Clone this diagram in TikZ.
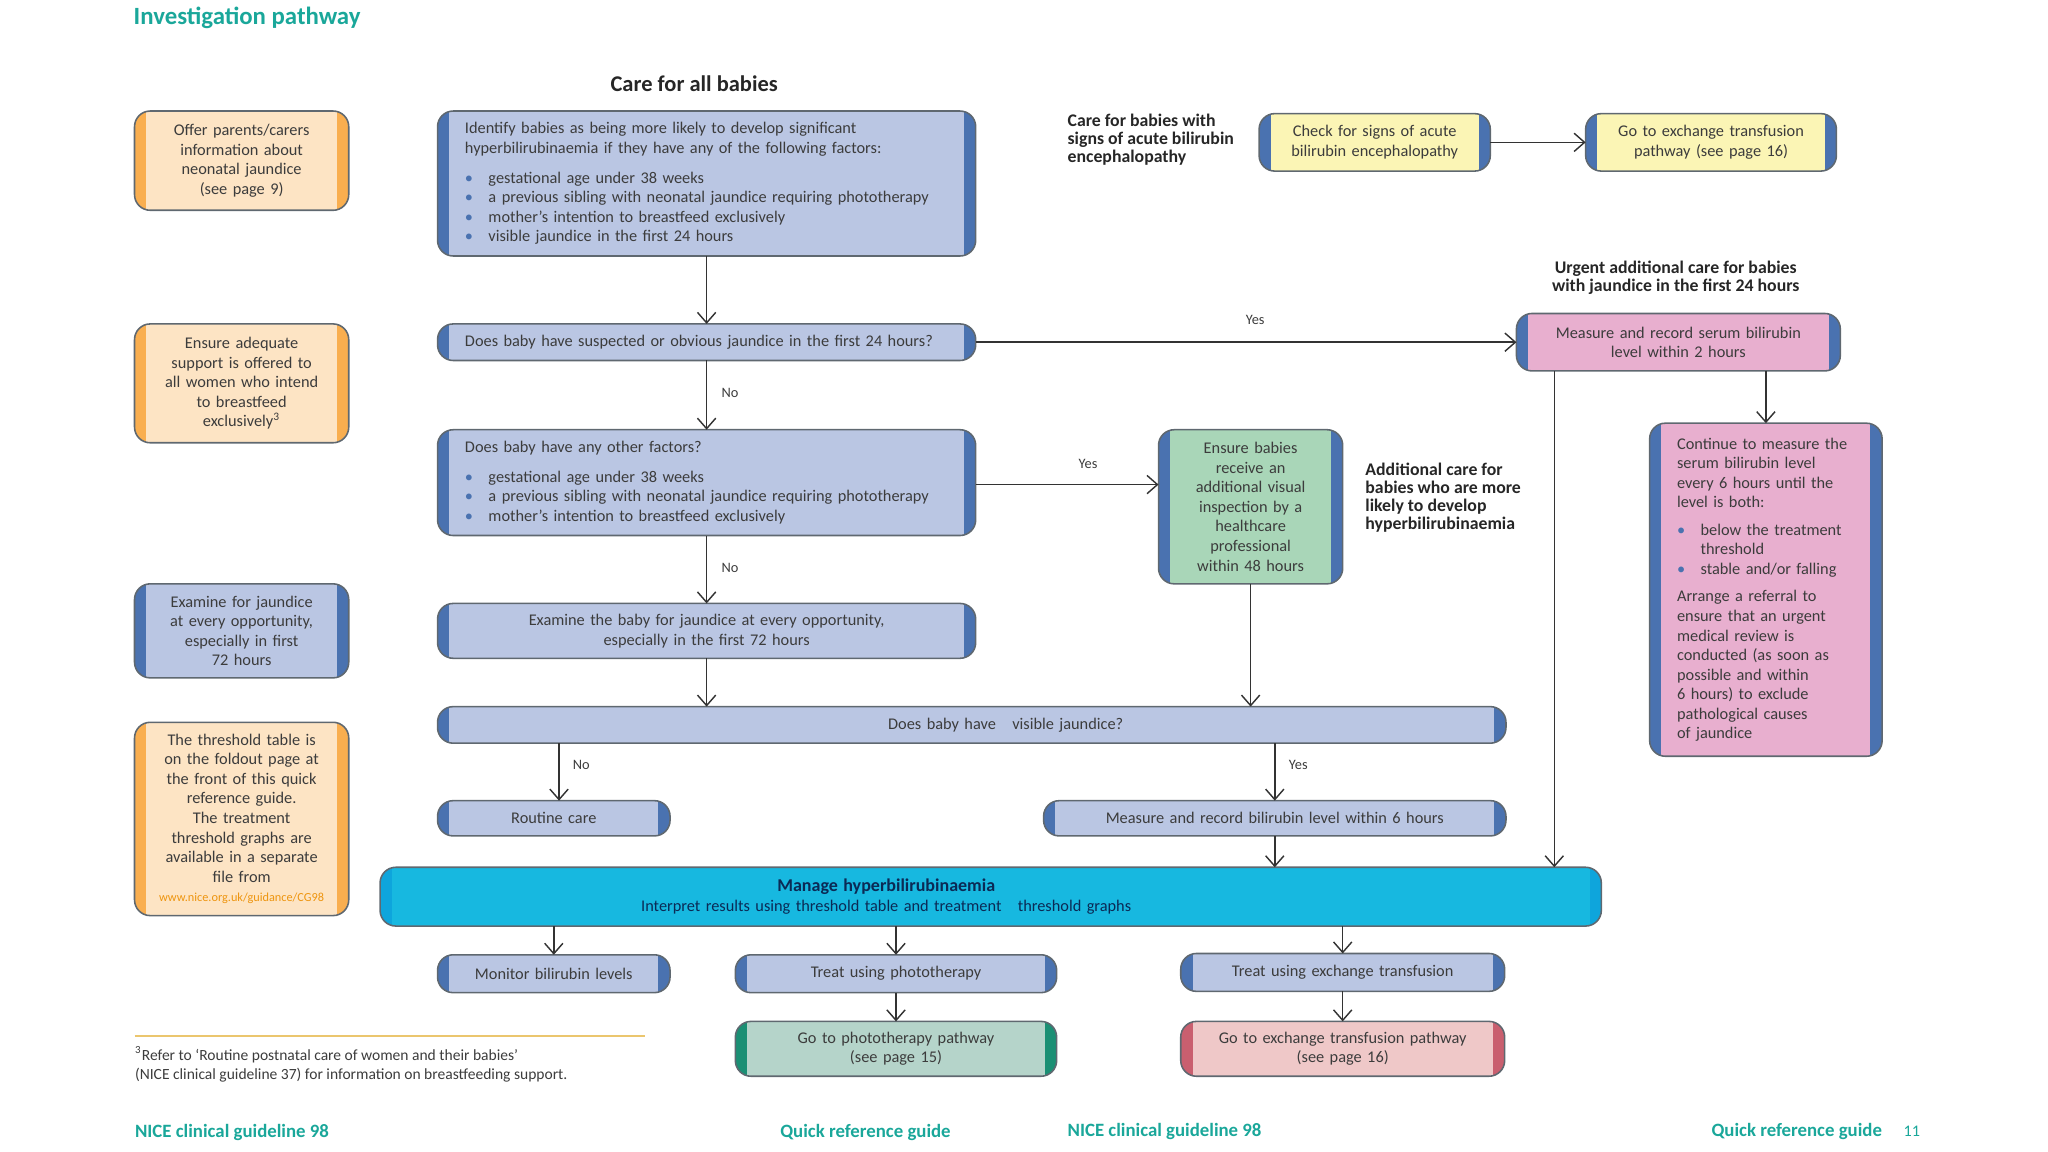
\documentclass[tikz,border=0pt]{standalone}
\usepackage{fontspec}
\setmainfont{Carlito}
\usetikzlibrary{arrows.meta}

\definecolor{tealhead}{HTML}{1AA79A}
\definecolor{bodytext}{HTML}{3C3C3C}
\definecolor{boxline}{HTML}{5F6870}
\definecolor{lineink}{HTML}{333333}
\definecolor{barblue}{HTML}{4A72B0}
\definecolor{paleblue}{HTML}{BAC6E3}
\definecolor{barorange}{HTML}{F9AE4F}
\definecolor{linkorange}{HTML}{EE950F}
\definecolor{paleorange}{HTML}{FDE4C4}
\definecolor{paleyellow}{HTML}{FBF5B5}
\definecolor{palepink}{HTML}{E8AFCF}
\definecolor{palegreen}{HTML}{A9D6B8}
\definecolor{barteal}{HTML}{1B8F74}
\definecolor{paleteal}{HTML}{B5D4CA}
\definecolor{barrose}{HTML}{C95F6F}
\definecolor{palerose}{HTML}{EFC8C8}
\definecolor{cyanfill}{HTML}{17B8E0}
\definecolor{cyanbar}{HTML}{0EA5DC}
\definecolor{navytext}{HTML}{0B2A55}
\definecolor{rulegold}{HTML}{EBC66E}

\newcommand{\bodyfont}{\fontsize{6.25}{7.5}\selectfont}
\newcommand{\bul}{\makebox[9pt][l]{\textcolor{barblue}{\textbullet}}}

\tikzset{
    flowbox/.style 2 args={draw=boxline, line width=0.6pt, fill=#1, rounded corners=6pt,
        inner xsep=0pt, inner ysep=0pt, outer sep=0pt, align=center, font=\bodyfont, text=bodytext,
        path picture={
            \fill[#2, sharp corners] (path picture bounding box.north west) rectangle ([xshift=4.5pt]path picture bounding box.south west);
            \fill[#2, sharp corners] (path picture bounding box.north east) rectangle ([xshift=-4.5pt]path picture bounding box.south east);
        }},
    leftbox/.style={align=left, inner xsep=10.5pt},
    flowline/.style={-{Straight Barb[length=4pt,width=7pt]}, line width=0.55pt, draw=lineink},
    yesno/.style={font=\fontsize{5.5}{6}\selectfont, text=bodytext, inner sep=0pt},
    sidehead/.style={font=\fontsize{6.8}{7}\bfseries\selectfont, text=black!85, inner sep=0pt},
    tealnote/.style={font=\fontsize{7.2}{8}\bfseries\selectfont, text=tealhead, inner sep=0pt, anchor=west},
}

\begin{document}
\begin{tikzpicture}[x=0.5pt, y=-0.5pt]
    \useasboundingbox (0, 0) rectangle (1568, 882);

    % headings
    \node[tealnote, font=\fontsize{9.5}{10}\bfseries\selectfont] (title) at (102, 14) {Investigation pathway};
    \node[sidehead, font=\fontsize{8.6}{9}\bfseries\selectfont] (allbabies) at (531.5, 64) {Care for all babies};
    \node[sidehead, anchor=west, align=left] (enceph) at (817, 107) {Care for babies with\\signs of acute bilirubin\\encephalopathy};
    \node[sidehead, align=center] (urgent) at (1283, 212.5) {Urgent additional care for babies\\with jaundice in the first 24 hours};
    \node[sidehead, anchor=west, align=left] (additional) at (1045, 381) {Additional care for\\babies who are more\\likely to develop\\hyperbilirubinaemia};

    % left column
    \node[flowbox={paleorange}{barorange}, text width=82pt, minimum height=38pt] (offer) at (185, 123) {Offer parents/carers\\information about\\neonatal jaundice\\(see page 9)};
    \node[flowbox={paleorange}{barorange}, text width=82pt, minimum height=45.5pt] (support) at (185, 293.5) {Ensure adequate\\support is offered to\\all women who intend\\to breastfeed\\exclusively\textsuperscript{3}};
    \node[flowbox={paleblue}{barblue}, text width=82pt, minimum height=36pt] (examleft) at (185, 483) {Examine for jaundice\\at every opportunity,\\especially in first\\72 hours};
    \node[flowbox={paleorange}{barorange}, text width=82pt, minimum height=74pt] (table) at (185, 627) {The threshold table is\\on the foldout page at\\the front of this quick\\reference guide.\\The treatment\\threshold graphs are\\available in a separate\\file from\\{\fontsize{4.7}{7.5}\selectfont\textcolor{linkorange}{www.nice.org.uk/guidance/CG98}}};

    % main column
    \node[flowbox={paleblue}{barblue}, leftbox, text width=185pt, minimum height=55.5pt] (identify) at (541, 140.5) {Identify babies as being more likely to develop significant\\hyperbilirubinaemia if they have any of the following factors:\\[4pt]
        \bul gestational age under 38 weeks\\\bul a previous sibling with neonatal jaundice requiring phototherapy\\\bul mother's intention to breastfeed exclusively\\\bul visible jaundice in the first 24 hours};
    \node[flowbox={paleblue}{barblue}, leftbox, text width=185pt, minimum height=14pt] (first24) at (541, 262) {Does baby have suspected or obvious jaundice in the first 24 hours?};
    \node[flowbox={paleblue}{barblue}, leftbox, text width=185pt, minimum height=40.5pt] (factors) at (541, 369.5) {Does baby have any other factors?\\[4pt]
        \bul gestational age under 38 weeks\\\bul a previous sibling with neonatal jaundice requiring phototherapy\\\bul mother's intention to breastfeed exclusively};
    \node[flowbox={paleblue}{barblue}, text width=206pt, minimum height=21pt] (examine) at (541, 483) {Examine the baby for jaundice at every opportunity,\\especially in the first 72 hours};
    \node[flowbox={paleblue}{barblue}, text width=409pt, minimum height=14pt] (visible) at (744, 555) {\hspace*{26pt}Does baby have \ \ visible jaundice?};
    \node[flowbox={paleblue}{barblue}, text width=89pt, minimum height=13.5pt] (routine) at (424, 626.5) {Routine care};
    \node[flowbox={paleblue}{barblue}, text width=177pt, minimum height=13.5pt] (measure6) at (976, 626.5) {Measure and record bilirubin level within 6 hours};
    \node[flowbox={cyanfill}{cyanbar}, text width=467.5pt, minimum height=22.5pt, text=navytext] (manage) at (758.5, 686.5) {{\fontsize{6.9}{7.5}\bfseries\selectfont Manage hyperbilirubinaemia}\hspace*{80pt}\mbox{}\\Interpret results using threshold table and treatment \ \ threshold graphs\hspace*{80pt}};
    \node[flowbox={paleblue}{barblue}, text width=89pt, minimum height=14.5pt] (monitor) at (424, 745.5) {Monitor bilirubin levels};
    \node[flowbox={paleblue}{barblue}, text width=123pt, minimum height=14.5pt] (photo) at (686, 745.5) {Treat using phototherapy};
    \node[flowbox={paleblue}{barblue}, text width=124pt, minimum height=14.5pt] (exchange) at (1028, 744.5) {Treat using exchange transfusion};
    \node[flowbox={paleteal}{barteal}, text width=123pt, minimum height=21pt] (photopath) at (686, 803) {Go to phototherapy pathway\\(see page 15)};
    \node[flowbox={palerose}{barrose}, text width=124pt, minimum height=21pt] (exchpath) at (1028, 803) {Go to exchange transfusion pathway\\(see page 16)};

    % right side
    \node[flowbox={paleyellow}{barblue}, text width=88.5pt, minimum height=22pt] (check) at (1052.5, 109) {Check for signs of acute\\bilirubin encephalopathy};
    \node[flowbox={paleyellow}{barblue}, text width=96pt, minimum height=22pt] (goexch) at (1310, 109) {Go to exchange transfusion\\pathway (see page 16)};
    \node[flowbox={palepink}{barblue}, text width=124pt, minimum height=22pt] (measure2) at (1285, 262) {Measure and record serum bilirubin\\level within 2 hours};
    \node[flowbox={palegreen}{barblue}, text width=70.5pt, minimum height=59pt] (visual) at (957.5, 388) {Ensure babies\\receive an\\additional visual\\inspection by a\\healthcare\\professional\\within 48 hours};
    \node[flowbox={palepink}{barblue}, leftbox, text width=68pt, minimum height=127.5pt] (continue) at (1352, 451.5) {Continue to measure the\\serum bilirubin level\\every 6 hours until the\\level is both:\\[3pt]
        \bul below the treatment\\\hspace*{9pt}threshold\\\bul stable and/or falling\\[3pt]
        Arrange a referral to\\ensure that an urgent\\medical review is\\conducted (as soon as\\possible and within\\6 hours) to exclude\\pathological causes\\of jaundice};

    % connectors
    \draw[flowline] (identify) -- (first24);
    \draw[flowline] (first24) -- (factors);
    \draw[flowline] (factors) -- (examine);
    \draw[flowline] (examine.south) -- (examine.south |- visible.north);
    \draw[flowline] (first24) -- (measure2);
    \draw[flowline] (check) -- (goexch);
    \draw[flowline] ([yshift=-0.75pt]factors.east) -- ([yshift=-0.75pt]factors.east -| visual.west);
    \draw[flowline] (visual.south) -- (visual.south |- visible.north);
    \draw[flowline] ([xshift=2pt]routine.north |- visible.south) -- ([xshift=2pt]routine.north);
    \draw[flowline] (measure6.north |- visible.south) -- (measure6.north);
    \draw[flowline] (measure6.south) -- (measure6.south |- manage.north);
    \draw[flowline] ([xshift=-47.5pt]measure2.south) -- ([xshift=-47.5pt]measure2.south |- manage.north);
    \draw[flowline] (continue.north |- measure2.south) -- (continue.north);
    \draw[flowline] (monitor.north |- manage.south) -- (monitor.north);
    \draw[flowline] (photo.north |- manage.south) -- (photo.north);
    \draw[flowline] (exchange.north |- manage.south) -- (exchange.north);
    \draw[flowline] (photo) -- (photopath);
    \draw[flowline] (exchange) -- (exchpath);

    % yes and no
    \node[yesno] (yestop) at (961, 245) {Yes};
    \node[yesno] (notop) at (559, 301) {No};
    \node[yesno] (yesmid) at (833, 355) {Yes};
    \node[yesno] (nomid) at (559, 435) {No};
    \node[yesno] (noleft) at (445, 586) {No};
    \node[yesno] (yesright) at (994, 586) {Yes};

    % footnote and footer
    \draw[rulegold, line width=0.6pt] (103, 793) -- (494, 793);
    \node[anchor=north west, inner sep=0pt, align=left, text=bodytext, font=\fontsize{5.95}{7.5}\selectfont] (foot) at (103, 801) {\textsuperscript{3}Refer to ‘Routine postnatal care of women and their babies’\\(NICE clinical guideline 37) for information on breastfeeding support.};
    \node[tealnote] (guideone) at (103, 867) {NICE clinical guideline 98};
    \node[tealnote] (quickone) at (597, 867) {Quick reference guide};
    \node[tealnote] (guidetwo) at (817, 866) {NICE clinical guideline 98};
    \node[tealnote] (quicktwo) at (1310, 866) {Quick reference guide};
    \node[tealnote, font=\fontsize{6.2}{7.5}\selectfont] (pagenum) at (1457, 866) {11};
\end{tikzpicture}
\end{document}
